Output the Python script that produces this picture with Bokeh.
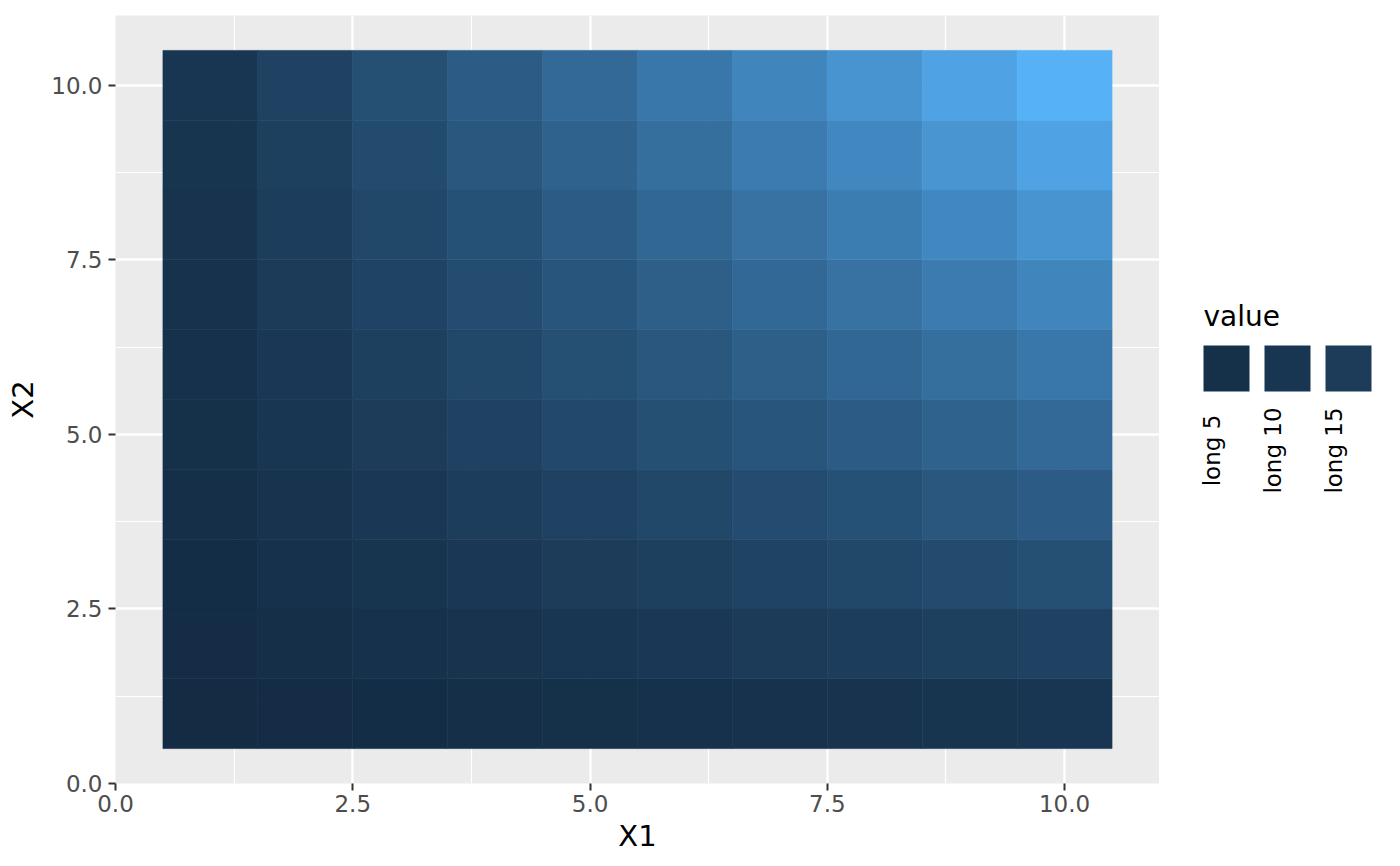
import math
from bokeh.plotting import figure
from bokeh.layouts import row
from bokeh.models import Range1d, FixedTicker, PrintfTickFormatter, ColumnDataSource
from bokeh.core.properties import value
from bokeh.embed import file_html
from bokeh.resources import INLINE

# ---------------- data ----------------
X1 = [1, 2, 3, 4, 5, 6, 7, 8, 9, 10]
X2 = [1, 2, 3, 4, 5, 6, 7, 8, 9, 10]
# value[row for X2][col for X1]
VALUES = [
    [1, 2, 3, 4, 5, 6, 7, 8, 9, 10],
    [2, 4, 6, 8, 10, 12, 14, 16, 18, 20],
    [3, 6, 9, 12, 15, 18, 21, 24, 27, 30],
    [4, 8, 12, 16, 20, 24, 28, 32, 36, 40],
    [5, 10, 15, 20, 25, 30, 35, 40, 45, 50],
    [6, 12, 18, 24, 30, 36, 42, 48, 54, 60],
    [7, 14, 21, 28, 35, 42, 49, 56, 63, 70],
    [8, 16, 24, 32, 40, 48, 56, 64, 72, 80],
    [9, 18, 27, 36, 45, 54, 63, 72, 81, 90],
    [10, 20, 30, 40, 50, 60, 70, 80, 90, 100],
]
LEGEND_BREAKS = [5, 10, 15]
LEGEND_LABELS = ["long 5", "long 10", "long 15"]
X_TICKS = [0, 2.5, 5, 7.5, 10]
Y_TICKS = [0, 2.5, 5, 7.5, 10]
MINOR = [1.25, 3.75, 6.25, 8.75]
LOW, HIGH = "#132B43", "#56B1F7"

# ---------------- colour scale (Lab interpolation like ggplot2) ----------------
def _hex2rgb(h):
    h = h.lstrip("#")
    return [int(h[i:i + 2], 16) / 255 for i in (0, 2, 4)]

def _lin(c):
    return c / 12.92 if c <= 0.04045 else ((c + 0.055) / 1.055) ** 2.4

def _delin(c):
    c = max(0.0, min(1.0, c))
    return 12.92 * c if c <= 0.0031308 else 1.055 * c ** (1 / 2.4) - 0.055

WHITE = (0.95047, 1.0, 1.08883)

def _rgb2lab(rgb):
    r, g, b = [_lin(c) for c in rgb]
    X = 0.4124564 * r + 0.3575761 * g + 0.1804375 * b
    Y = 0.2126729 * r + 0.7151522 * g + 0.0721750 * b
    Z = 0.0193339 * r + 0.1191920 * g + 0.9503041 * b
    def f(t):
        return t ** (1 / 3) if t > 216 / 24389 else (24389 / 27 * t + 16) / 116
    fx, fy, fz = f(X / WHITE[0]), f(Y / WHITE[1]), f(Z / WHITE[2])
    return (116 * fy - 16, 500 * (fx - fy), 200 * (fy - fz))

def _lab2hex(lab):
    L, a, bb = lab
    fy = (L + 16) / 116
    fx = fy + a / 500
    fz = fy - bb / 200
    def finv(t):
        return t ** 3 if t ** 3 > 216 / 24389 else (116 * t - 16) * 27 / 24389
    X, Y, Z = finv(fx) * WHITE[0], finv(fy) * WHITE[1], finv(fz) * WHITE[2]
    r = 3.2404542 * X - 1.5371385 * Y - 0.4985314 * Z
    g = -0.9692660 * X + 1.8760108 * Y + 0.0415560 * Z
    b = 0.0556434 * X - 0.2040259 * Y + 1.0572252 * Z
    return "#%02X%02X%02X" % tuple(int(round(_delin(c) * 255)) for c in (r, g, b))

LAB_LO, LAB_HI = _rgb2lab(_hex2rgb(LOW)), _rgb2lab(_hex2rgb(HIGH))
VMIN = min(min(r) for r in VALUES)
VMAX = max(max(r) for r in VALUES)

def colour(v):
    t = (v - VMIN) / (VMAX - VMIN)
    return _lab2hex(tuple(LAB_LO[i] + t * (LAB_HI[i] - LAB_LO[i]) for i in range(3)))

# ---------------- main plot ----------------
xs, ys, cs = [], [], []
for j, yv in enumerate(X2):
    for i, xv in enumerate(X1):
        xs.append(xv)
        ys.append(yv)
        cs.append(colour(VALUES[j][i]))
src = ColumnDataSource(dict(x=xs, y=ys, c=cs))

FONT = "DejaVu Sans"
FRAME_L, FRAME_T, FRAME_W, FRAME_H = 115, 15, 1044, 768
PAGE_W, PAGE_H = 1400, 866

p = figure(frame_width=FRAME_W, frame_height=FRAME_H,
           x_range=Range1d(0, 11), y_range=Range1d(0, 11),
           output_backend="svg", toolbar_location=None,
           min_border_left=FRAME_L, min_border_top=FRAME_T, min_border_right=0,
           min_border_bottom=PAGE_H - FRAME_T - FRAME_H,
           background_fill_color="#EBEBEB", border_fill_color="white",
           outline_line_color=None)
p.rect(x="x", y="y", width=1, height=1, source=src, fill_color="c",
       line_color="c", line_width=0.6)

for ax, ticks in ((p.xaxis[0], X_TICKS), (p.yaxis[0], Y_TICKS)):
    ax.ticker = FixedTicker(ticks=ticks, minor_ticks=MINOR)
    ax.formatter = PrintfTickFormatter(format="%.1f")
    ax.axis_line_color = None
    ax.major_tick_line_color = "#333333"
    ax.major_tick_line_width = 2
    ax.major_tick_out = 7
    ax.major_tick_in = 0
    ax.minor_tick_out = 0
    ax.minor_tick_in = 0
    ax.major_label_text_font = FONT
    ax.major_label_text_font_size = "23px"
    ax.major_label_text_color = "#4D4D4D"
    ax.axis_label_text_font = FONT
    ax.axis_label_text_font_size = "29px"
    ax.axis_label_text_font_style = "normal"
    ax.axis_label_text_color = "black"
p.xaxis[0].axis_label = "X1"
p.yaxis[0].axis_label = "X2"
p.xaxis[0].major_label_standoff = 4
p.yaxis[0].major_label_standoff = 6
p.xaxis[0].axis_label_standoff = 4
p.yaxis[0].axis_label_standoff = 8

for g in (p.xgrid[0], p.ygrid[0]):
    g.grid_line_color = "white"
    g.grid_line_width = 2.4
    g.minor_grid_line_color = "white"
    g.minor_grid_line_width = 1.2

# ---------------- legend (separate panel on the right) ----------------
# Its frame is aligned by the row layout with the main frame (page y 15..783).
LW = PAGE_W - FRAME_L - FRAME_W
LEG_X0 = FRAME_L + FRAME_W     # page x where legend panel starts
KEY = 46
KEY_GAP = 15
KEY_LEFT = 1203 - LEG_X0
KEY_TOP = 345
TITLE_BASE = 316
LABEL_MID = 450
LABEL_SHIFT = -5

def py(page_y):
    return FRAME_T + FRAME_H - page_y

leg = figure(frame_width=LW, frame_height=FRAME_H, x_range=Range1d(0, LW),
             y_range=Range1d(0, FRAME_H),
             output_backend="svg", toolbar_location=None,
             x_axis_location=None, y_axis_location=None,
             min_border=0, min_border_top=FRAME_T,
             min_border_bottom=PAGE_H - FRAME_T - FRAME_H,
             outline_line_color=None,
             background_fill_color="white", border_fill_color="white")
leg.grid.visible = False

kx = [KEY_LEFT + i * (KEY + KEY_GAP) + KEY / 2 for i in range(len(LEGEND_BREAKS))]
ky = [py(KEY_TOP + KEY / 2)] * len(LEGEND_BREAKS)
leg.rect(x=kx, y=ky, width=KEY, height=KEY,
         fill_color=[colour(b) for b in LEGEND_BREAKS], line_color=None)
leg.text(x=[KEY_LEFT], y=[py(TITLE_BASE)], text=["value"],
         text_font=value(FONT), text_font_size="28px", text_color="black",
         text_baseline="alphabetic", text_align="left")
lx = [KEY_LEFT + LABEL_SHIFT + i * (KEY + KEY_GAP) for i in range(len(LEGEND_BREAKS))]
leg.text(x=lx, y=[py(LABEL_MID)] * len(LEGEND_BREAKS), text=LEGEND_LABELS,
         angle=math.pi / 2, text_font=value(FONT), text_font_size="23px",
         text_color="black", text_baseline="top", text_align="center")

layout = row(p, leg, spacing=0)
open("out.html", "w").write(file_html(layout, INLINE))
